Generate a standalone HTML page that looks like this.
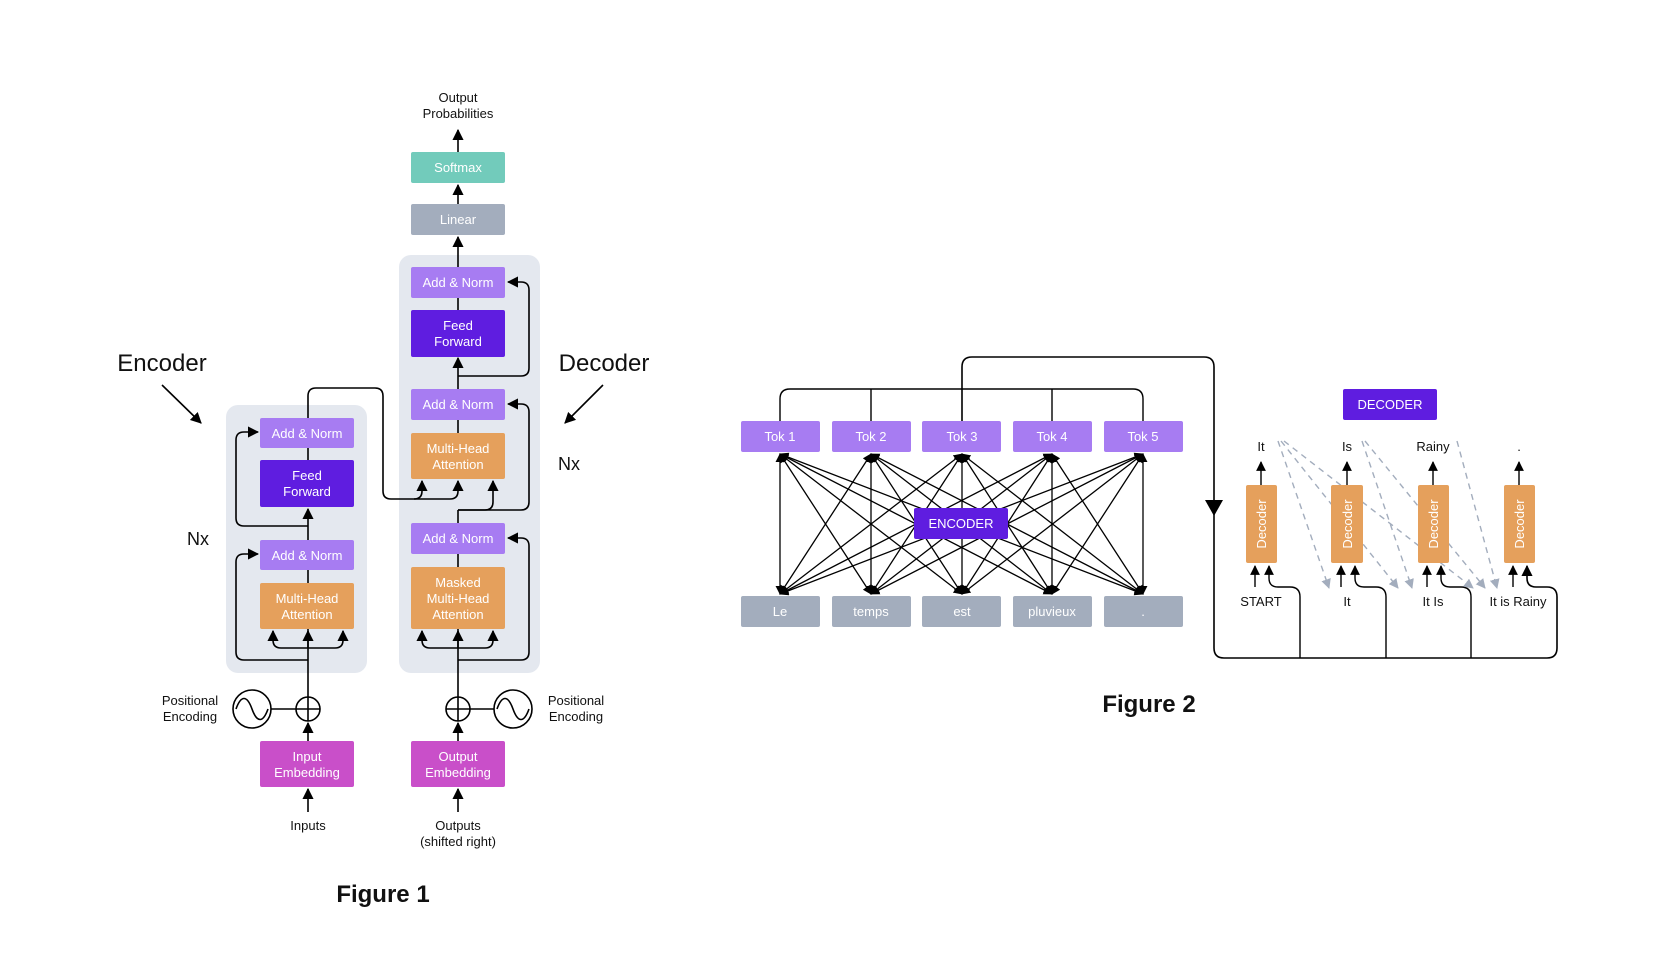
<!DOCTYPE html>
<html><head><meta charset="utf-8"><style>
html,body{margin:0;padding:0;background:#fff}
svg{display:block}
text{font-family:"Liberation Sans",sans-serif}
</style></head><body>
<svg width="1666" height="956" viewBox="0 0 1666 956" xmlns="http://www.w3.org/2000/svg">
<defs>
<marker id="a" viewBox="0 0 10 10" refX="9" refY="5" markerWidth="7" markerHeight="7" orient="auto-start-reverse"><path d="M0,0L10,5L0,10z" fill="#000"/></marker>
<marker id="g" viewBox="0 0 10 10" refX="9" refY="5" markerWidth="7" markerHeight="7" orient="auto"><path d="M0,0L10,5L0,10z" fill="#a3adbd"/></marker>
</defs>

<!-- FIGURE 1 -->
<rect x="226" y="405" width="141" height="268" rx="12" fill="#e4e8ef"/>
<rect x="399" y="255" width="141" height="418" rx="12" fill="#e4e8ef"/>

<g fill="none" stroke="#000" stroke-width="1.6">
<line x1="458" y1="812" x2="458" y2="789" marker-end="url(#a)"/>
<line x1="458" y1="741" x2="458" y2="723" marker-end="url(#a)"/>
<line x1="458" y1="721" x2="458" y2="629"/>
<line x1="458" y1="567" x2="458" y2="554"/>
<line x1="458" y1="523" x2="458" y2="510"/>
<line x1="458" y1="433" x2="458" y2="420"/>
<line x1="458" y1="389" x2="458" y2="376"/>
<line x1="458" y1="376" x2="458" y2="358" marker-end="url(#a)"/>
<line x1="458" y1="310" x2="458" y2="298"/>
<line x1="458" y1="267" x2="458" y2="237" marker-end="url(#a)"/>
<line x1="458" y1="204" x2="458" y2="185" marker-end="url(#a)"/>
<line x1="458" y1="152" x2="458" y2="130" marker-end="url(#a)"/>
<path d="M458,660 H521 Q529,660 529,652 V546 Q529,538 521,538 H508" marker-end="url(#a)"/>
<path d="M458,510 H521 Q529,510 529,502 V412 Q529,404 521,404 H508" marker-end="url(#a)"/>
<path d="M458,376 H521 Q529,376 529,368 V290 Q529,282 521,282 H508" marker-end="url(#a)"/>
<path d="M458,648 H430 Q422,648 422,640 V631" marker-end="url(#a)"/>
<path d="M458,648 H485 Q493,648 493,640 V631" marker-end="url(#a)"/>
<line x1="458" y1="648" x2="458" y2="631" marker-end="url(#a)"/>
<path d="M308,448 V396 Q308,388 316,388 H375 Q383,388 383,396 V491 Q383,499 391,499 H414 Q422,499 422,491 V481" marker-end="url(#a)"/>
<path d="M414,499 H450 Q458,499 458,491 V481" marker-end="url(#a)"/>
<path d="M458,510 H485 Q493,510 493,502 V481" marker-end="url(#a)"/>
<line x1="308" y1="812" x2="308" y2="789" marker-end="url(#a)"/>
<line x1="308" y1="741" x2="308" y2="723" marker-end="url(#a)"/>
<line x1="308" y1="721" x2="308" y2="629"/>
<line x1="308" y1="583" x2="308" y2="570"/>
<line x1="308" y1="540" x2="308" y2="526"/>
<line x1="308" y1="526" x2="308" y2="509" marker-end="url(#a)"/>
<line x1="308" y1="460" x2="308" y2="448"/>
<path d="M308,660 H244 Q236,660 236,652 V562 Q236,554 244,554 H258" marker-end="url(#a)"/>
<path d="M308,526 H244 Q236,526 236,518 V440 Q236,432 244,432 H258" marker-end="url(#a)"/>
<path d="M308,648 H281 Q273,648 273,640 V631" marker-end="url(#a)"/>
<path d="M308,648 H335 Q343,648 343,640 V631" marker-end="url(#a)"/>
<line x1="308" y1="648" x2="308" y2="631" marker-end="url(#a)"/>
<circle cx="308" cy="709" r="12"/><line x1="296" y1="709" x2="320" y2="709"/>
<circle cx="458" cy="709" r="12"/><line x1="446" y1="709" x2="470" y2="709"/>
<circle cx="252" cy="709" r="19"/><line x1="271" y1="709" x2="296" y2="709"/>
<circle cx="513" cy="709" r="19"/><line x1="470" y1="709" x2="494" y2="709"/>
<path d="M236,709 C241,695 247,695 252,709 C257,723 263,723 268,709"/>
<path d="M497,709 C502,695 508,695 513,709 C518,723 524,723 529,709"/>
<line x1="162" y1="385" x2="201" y2="423" marker-end="url(#a)"/>
<line x1="603" y1="385" x2="565" y2="423" marker-end="url(#a)"/>
</g>

<g font-size="13" fill="#fff" text-anchor="middle">
<rect x="411" y="152" width="94" height="31" rx="2" fill="#72cbbb"/><text x="458" y="172">Softmax</text>
<rect x="411" y="204" width="94" height="31" rx="2" fill="#a3adbd"/><text x="458" y="224">Linear</text>
<rect x="411" y="267" width="94" height="31" rx="2" fill="#a77cf2"/><text x="458" y="287">Add &amp; Norm</text>
<rect x="411" y="310" width="94" height="47" rx="2" fill="#5f1de0"/><text x="458" y="330">Feed</text><text x="458" y="346">Forward</text>
<rect x="411" y="389" width="94" height="31" rx="2" fill="#a77cf2"/><text x="458" y="409">Add &amp; Norm</text>
<rect x="411" y="433" width="94" height="46" rx="2" fill="#e5a05c"/><text x="458" y="453">Multi-Head</text><text x="458" y="469">Attention</text>
<rect x="411" y="523" width="94" height="31" rx="2" fill="#a77cf2"/><text x="458" y="543">Add &amp; Norm</text>
<rect x="411" y="567" width="94" height="62" rx="2" fill="#e5a05c"/><text x="458" y="587">Masked</text><text x="458" y="603">Multi-Head</text><text x="458" y="619">Attention</text>
<rect x="260" y="418" width="94" height="30" rx="2" fill="#a77cf2"/><text x="307" y="438">Add &amp; Norm</text>
<rect x="260" y="460" width="94" height="47" rx="2" fill="#5f1de0"/><text x="307" y="480">Feed</text><text x="307" y="496">Forward</text>
<rect x="260" y="540" width="94" height="30" rx="2" fill="#a77cf2"/><text x="307" y="560">Add &amp; Norm</text>
<rect x="260" y="583" width="94" height="46" rx="2" fill="#e5a05c"/><text x="307" y="603">Multi-Head</text><text x="307" y="619">Attention</text>
<rect x="260" y="741" width="94" height="46" rx="2" fill="#c94fc9"/><text x="307" y="761">Input</text><text x="307" y="777">Embedding</text>
<rect x="411" y="741" width="94" height="46" rx="2" fill="#c94fc9"/><text x="458" y="761">Output</text><text x="458" y="777">Embedding</text>
</g>
<g font-size="13" fill="#111" text-anchor="middle">
<text x="458" y="102">Output</text><text x="458" y="118">Probabilities</text>
<text x="308" y="830">Inputs</text>
<text x="458" y="830">Outputs</text><text x="458" y="846">(shifted right)</text>
<text x="190" y="705">Positional</text><text x="190" y="721">Encoding</text>
<text x="576" y="705">Positional</text><text x="576" y="721">Encoding</text>
<text x="162" y="371" font-size="24">Encoder</text>
<text x="604" y="371" font-size="24">Decoder</text>
<text x="198" y="545" font-size="18">Nx</text>
<text x="569" y="470" font-size="18">Nx</text>
<text x="383" y="902" font-size="24" font-weight="bold">Figure 1</text>
</g>

<!-- FIGURE 2 -->
<g fill="none" stroke="#000" stroke-width="1.4">
<path d="M780,421 V399 Q780,389 790,389 H1133 Q1143,389 1143,399 V421"/>
<line x1="871" y1="389" x2="871" y2="421"/>
<line x1="1052" y1="389" x2="1052" y2="421"/>
<path d="M962,421 V367 Q962,357 972,357 H1204 Q1214,357 1214,367 V648 Q1214,658 1224,658 H1547 Q1557,658 1557,648 V597 Q1557,587 1547,587 H1536 Q1527,587 1527,578 V566" stroke-width="1.6" marker-end="url(#a)"/>
<path d="M1300,658 V597 Q1300,587 1290,587 H1278 Q1269,587 1269,578 V566" marker-end="url(#a)"/>
<path d="M1386,658 V597 Q1386,587 1376,587 H1364 Q1355,587 1355,578 V566" marker-end="url(#a)"/>
<path d="M1471,658 V597 Q1471,587 1461,587 H1450 Q1441,587 1441,578 V566" marker-end="url(#a)"/>
<line x1="1255" y1="587" x2="1255" y2="566" marker-end="url(#a)"/>
<line x1="1341" y1="587" x2="1341" y2="566" marker-end="url(#a)"/>
<line x1="1427" y1="587" x2="1427" y2="566" marker-end="url(#a)"/>
<line x1="1513" y1="587" x2="1513" y2="566" marker-end="url(#a)"/>
<line x1="1261" y1="485" x2="1261" y2="462" marker-end="url(#a)"/>
<line x1="1347" y1="485" x2="1347" y2="462" marker-end="url(#a)"/>
<line x1="1433" y1="485" x2="1433" y2="462" marker-end="url(#a)"/>
<line x1="1519" y1="485" x2="1519" y2="462" marker-end="url(#a)"/>
</g>
<path d="M1205,500 L1223,500 L1214,516 Z" fill="#000"/>

<g stroke="#000" stroke-width="1.3" marker-start="url(#a)" marker-end="url(#a)">
<line x1="780" y1="454" x2="780" y2="594"/><line x1="780" y1="454" x2="871" y2="594"/><line x1="780" y1="454" x2="962" y2="594"/><line x1="780" y1="454" x2="1052" y2="594"/><line x1="780" y1="454" x2="1143" y2="594"/>
<line x1="871" y1="454" x2="780" y2="594"/><line x1="871" y1="454" x2="871" y2="594"/><line x1="871" y1="454" x2="962" y2="594"/><line x1="871" y1="454" x2="1052" y2="594"/><line x1="871" y1="454" x2="1143" y2="594"/>
<line x1="962" y1="454" x2="780" y2="594"/><line x1="962" y1="454" x2="871" y2="594"/><line x1="962" y1="454" x2="962" y2="594"/><line x1="962" y1="454" x2="1052" y2="594"/><line x1="962" y1="454" x2="1143" y2="594"/>
<line x1="1052" y1="454" x2="780" y2="594"/><line x1="1052" y1="454" x2="871" y2="594"/><line x1="1052" y1="454" x2="962" y2="594"/><line x1="1052" y1="454" x2="1052" y2="594"/><line x1="1052" y1="454" x2="1143" y2="594"/>
<line x1="1143" y1="454" x2="780" y2="594"/><line x1="1143" y1="454" x2="871" y2="594"/><line x1="1143" y1="454" x2="962" y2="594"/><line x1="1143" y1="454" x2="1052" y2="594"/><line x1="1143" y1="454" x2="1143" y2="594"/>
</g>

<g stroke="#a3adbd" stroke-width="1.4" stroke-dasharray="6,5" fill="none" marker-end="url(#g)">
<line x1="1278" y1="441" x2="1329" y2="588"/>
<line x1="1281" y1="441" x2="1398" y2="588"/>
<line x1="1284" y1="441" x2="1473" y2="588"/>
<line x1="1362" y1="441" x2="1412" y2="588"/>
<line x1="1365" y1="441" x2="1485" y2="588"/>
<line x1="1457" y1="441" x2="1497" y2="588"/>
</g>

<g font-size="13" fill="#fff" text-anchor="middle">
<rect x="741" y="421" width="79" height="31" rx="2" fill="#a77cf2"/><text x="780" y="441">Tok 1</text>
<rect x="832" y="421" width="79" height="31" rx="2" fill="#a77cf2"/><text x="871" y="441">Tok 2</text>
<rect x="922" y="421" width="79" height="31" rx="2" fill="#a77cf2"/><text x="962" y="441">Tok 3</text>
<rect x="1013" y="421" width="79" height="31" rx="2" fill="#a77cf2"/><text x="1052" y="441">Tok 4</text>
<rect x="1104" y="421" width="79" height="31" rx="2" fill="#a77cf2"/><text x="1143" y="441">Tok 5</text>
<rect x="741" y="596" width="79" height="31" rx="2" fill="#a3adbd"/><text x="780" y="616">Le</text>
<rect x="832" y="596" width="79" height="31" rx="2" fill="#a3adbd"/><text x="871" y="616">temps</text>
<rect x="922" y="596" width="79" height="31" rx="2" fill="#a3adbd"/><text x="962" y="616">est</text>
<rect x="1013" y="596" width="79" height="31" rx="2" fill="#a3adbd"/><text x="1052" y="616">pluvieux</text>
<rect x="1104" y="596" width="79" height="31" rx="2" fill="#a3adbd"/><text x="1143" y="616">.</text>
<rect x="914" y="508" width="94" height="31" rx="2" fill="#5f1de0"/><text x="961" y="528">ENCODER</text>
<rect x="1343" y="389" width="94" height="31" rx="2" fill="#5f1de0"/><text x="1390" y="409">DECODER</text>
<rect x="1246" y="485" width="31" height="78" rx="2" fill="#e5a05c"/>
<rect x="1331" y="485" width="32" height="78" rx="2" fill="#e5a05c"/>
<rect x="1418" y="485" width="31" height="78" rx="2" fill="#e5a05c"/>
<rect x="1504" y="485" width="31" height="78" rx="2" fill="#e5a05c"/>
<text transform="translate(1266,524) rotate(-90)">Decoder</text>
<text transform="translate(1352,524) rotate(-90)">Decoder</text>
<text transform="translate(1438,524) rotate(-90)">Decoder</text>
<text transform="translate(1524,524) rotate(-90)">Decoder</text>
</g>
<g font-size="13" fill="#111" text-anchor="middle">
<text x="1261" y="451">It</text><text x="1347" y="451">Is</text><text x="1433" y="451">Rainy</text><text x="1519" y="451">.</text>
<text x="1261" y="606">START</text><text x="1347" y="606">It</text><text x="1433" y="606">It Is</text><text x="1518" y="606">It is Rainy</text>
<text x="1149" y="712" font-size="24" font-weight="bold">Figure 2</text>
</g>
</svg>
</body></html>
